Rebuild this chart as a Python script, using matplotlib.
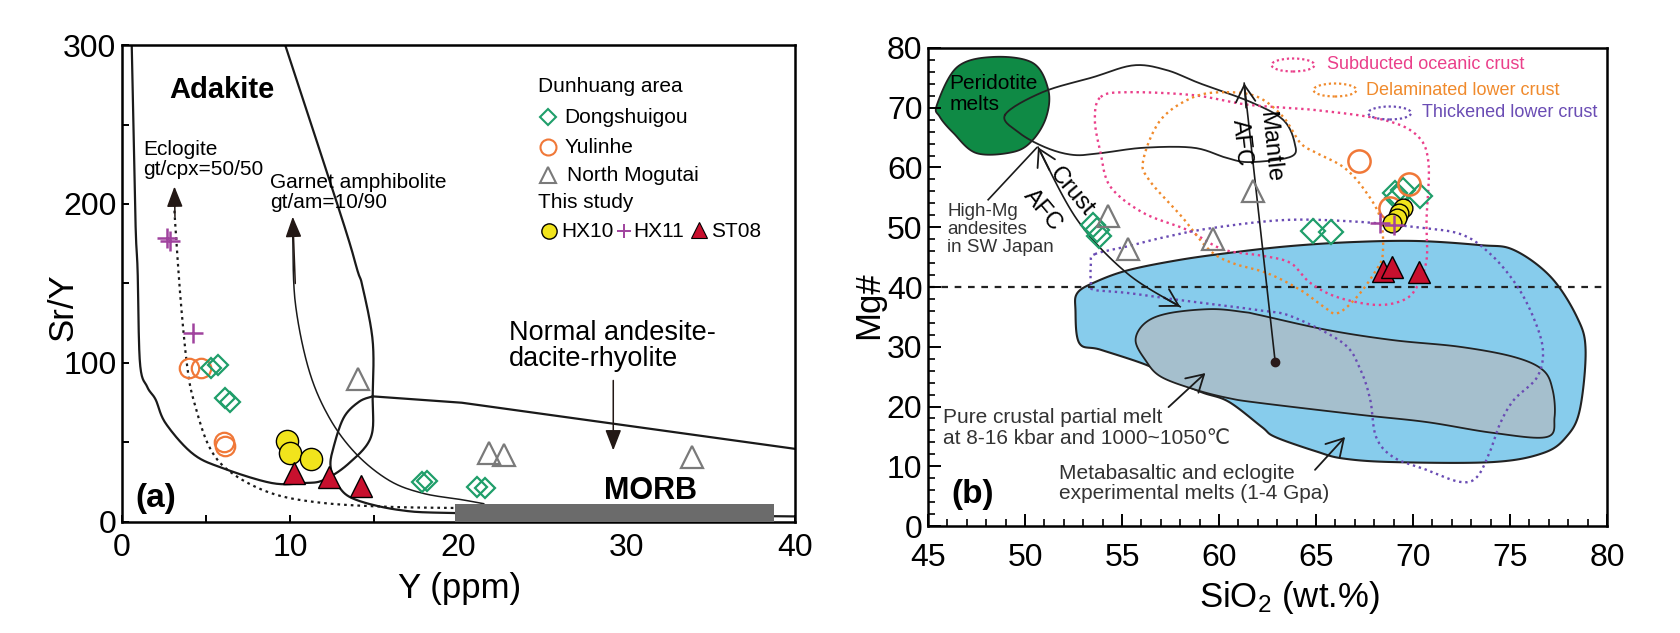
import numpy as np
import matplotlib
matplotlib.use('Agg')
import matplotlib.pyplot as plt
from matplotlib.patches import Polygon, Ellipse, Rectangle
from matplotlib.ticker import MultipleLocator

plt.rcParams['font.family'] = ['Liberation Sans', 'DejaVu Sans']
plt.rcParams['mathtext.fontset'] = 'dejavusans'

# ---------------- Panel (a) data: Y (ppm) vs Sr/Y ----------------
dong_y = [5.3, 5.7, 6.1, 6.4, 17.85, 18.15, 21.1, 21.6]
dong_sry = [97, 99, 78, 75.5, 25, 26, 22, 21.4]
yul_y = [4.0, 4.7, 6.05, 6.15]
yul_sry = [97, 97, 50, 48]
nm_y = [14.0, 21.8, 22.7, 33.9]
nm_sry = [90, 43.4, 42, 41]
hx10_y = [9.8, 10.0, 11.25]
hx10_sry = [51, 43.4, 39.6]
hx11_y = [2.7, 2.85, 4.2]
hx11_sry = [178.6, 177, 119]
st08_y = [10.2, 12.3, 14.2]
st08_sry = [31, 28, 22.6]

# field boundaries (a)
adak_y = [0.58, 0.8, 0.93, 1.07, 1.5, 2.0, 2.6, 4.2, 5.95, 8.9, 10.8, 12.0, 13.5, 14.8, 14.9, 14.9, 14.3, 14.0, 13.1, 9.7]
adak_sry = [300, 190, 158, 100, 85, 77, 62, 43, 34, 24.5, 24.5, 26.4, 37, 53.5, 79, 114, 148, 158, 190, 300]
norm_left_y = [14.9, 14.1, 13.2, 12.6, 12.4, 12.9, 13.9, 16.5, 19.8, 30, 40]
norm_left_sry = [79, 75.7, 66, 48, 34.6, 22, 14, 7.5, 5.6, 4.5, 3.5]
norm_top_y = [14.9, 20.2, 40]
norm_top_sry = [79, 75, 46]
garnet_y = [10.15, 10.3, 11.1, 12.3, 13.9, 15.9, 17.9, 20.2, 21.5]
garnet_sry = [180, 138, 96, 66, 43, 26, 18, 14, 11.5]
eclog_y = [3.12, 3.15, 3.5, 3.9, 4.3, 5.2, 6.5, 8.9, 11.9, 15.9, 19.8]
eclog_sry = [200, 190, 138, 96, 75, 47, 31, 18, 12, 9.5, 8.8]
morb_y = [19.8, 38.75]
morb_sry = [0, 11]

# ---------------- Panel (b) data: SiO2 vs Mg# ----------------
dong_si = [53.5, 53.7, 53.8, 64.85, 65.8, 69.07, 69.5, 70.36, 69.2]
dong_mg = [50.4, 49.5, 48.5, 49.4, 49.2, 55.7, 56.2, 55.2, 54.9]
yul_si = [67.2, 69.8, 68.8]
yul_mg = [61.1, 57.2, 53.2]
nm_si = [54.3, 55.3, 59.7, 61.75]
nm_mg = [51.9, 46.4, 48.0, 56.1]
hx10_si = [69.5, 69.3, 69.2, 68.9]
hx10_mg = [53.2, 52.4, 51.5, 50.7]
hx11_si = [68.3, 69.0]
hx11_mg = [50.7, 50.4]
st08_si = [68.45, 68.9, 70.3]
st08_mg = [42.7, 43.3, 42.5]

blue_si = [52.6, 52.7, 53.6, 55.3, 57.9, 60.5, 63.5, 66.75, 70.2, 73.5, 75.2, 77.1, 78.45, 78.9, 78.6, 77.9, 76.7, 74.1, 69.0, 66.4, 65.0, 62.9, 62.2, 60.5, 59.1, 57.4, 56.3, 53.9, 52.8]
blue_mg = [36.2, 39.0, 40.8, 42.8, 44.5, 45.7, 46.8, 47.5, 47.7, 47.0, 46.2, 41.7, 35.0, 29.5, 19.4, 14.9, 12.2, 10.7, 10.7, 11.3, 12.5, 14.9, 16.6, 20.8, 22.4, 24.8, 26.9, 29.5, 30.6]
gray_si = [55.7, 56.2, 57.4, 59.6, 61.3, 62.1, 65.6, 69.0, 72.4, 75.2, 76.7, 77.2, 77.3, 76.9, 74.1, 70.7, 67.3, 62.1, 60.5, 58.8, 57.0, 56.2]
gray_mg = [31.1, 34.0, 35.6, 36.3, 35.8, 35.3, 32.8, 31.1, 30.0, 28.3, 26.1, 22.8, 18.2, 14.9, 15.6, 17.4, 18.6, 20.6, 21.4, 22.8, 25.0, 27.8]
per_si = [45.46, 46.5, 48.35, 50.4, 51.2, 51.1, 50.4, 49.4, 47.5, 46.3, 45.6]
per_mg = [70.5, 76.8, 78.5, 77.5, 73.0, 68.5, 64.6, 62.6, 62.4, 65.8, 68.5]
hm_si = [48.97, 50.9, 53.5, 55.6, 57.3, 59.0, 61.6, 63.3, 63.9, 63.7, 61.6, 60.4, 58.7, 56.1, 53.9, 52.5, 51.1, 49.7]
hm_mg = [68.8, 72.6, 75.1, 77.1, 76.3, 74.1, 71.0, 68.0, 64.1, 61.8, 60.9, 61.6, 63.3, 63.3, 62.4, 62.1, 63.3, 65.8]
pk_si = [53.9, 55.3, 58.7, 61.5, 65.0, 68.45, 70.2, 70.8, 70.7, 70.7, 70.2, 69.5, 68.1, 66.1, 64.7, 63.7, 62.3, 60.2, 58.4, 56.1, 54.4, 53.9, 53.6]
pk_mg = [71.8, 72.6, 72.1, 70.5, 69.6, 68.0, 65.4, 60.8, 51.2, 44.5, 40.0, 37.8, 37.0, 38.3, 40.7, 44.0, 45.2, 46.3, 49.5, 52.4, 56.8, 62.4, 68.0]
or_si = [60.4, 62.0, 63.3, 64.2, 65.05, 66.4, 67.4, 68.3, 68.45, 68.1, 67.1, 66.1, 65.4, 64.2, 62.5, 60.7, 59.5, 58.1, 56.4, 56.1, 57.0, 58.7]
or_mg = [72.6, 71.8, 68.5, 64.1, 62.4, 60.1, 56.7, 51.7, 45.7, 42.8, 38.3, 35.6, 36.7, 39.5, 42.3, 44.0, 46.2, 51.7, 57.9, 61.3, 68.0, 71.8]
pu_si = [53.6, 55.3, 57.0, 59.5, 63.3, 66.75, 70.2, 72.5, 74.0, 75.3, 76.2, 76.7, 76.4, 75.2, 74.5, 74.0, 73.3, 72.4, 70.7, 69.0, 68.1, 67.8, 67.3, 66.4, 63.8, 62.1, 58.0, 55.3, 53.6, 53.4, 53.4]
pu_mg = [45.5, 46.8, 48.2, 49.8, 51.2, 51.0, 50.0, 48.8, 45.5, 40.5, 35.0, 29.5, 24.9, 21.1, 17.2, 12.7, 8.2, 7.4, 9.4, 11.5, 14.9, 21.1, 26.1, 30.6, 35.0, 36.1, 37.8, 39.0, 39.5, 40.5, 44.0]
mantle_si = [62.9, 61.3]
mantle_mg = [27.4, 74.1]
crust_si = [50.67, 52.7, 55.26, 58.0]
crust_mg = [63.4, 51.2, 42.3, 36.7]
highmg_si = [48.1, 50.6]
highmg_mg = [54.6, 63.3]


def smooth(xs, ys, closed=False, n=16):
    P = np.column_stack([xs, ys]).astype(float)
    if closed:
        P = np.vstack([P[-1], P, P[0], P[1]])
    else:
        P = np.vstack([P[0], P, P[-1]])
    out = []
    t = np.linspace(0, 1, n, endpoint=False)[:, None]
    for i in range(1, len(P) - 2):
        p0, p1, p2, p3 = P[i - 1], P[i], P[i + 1], P[i + 2]
        seg = 0.5 * ((2 * p1) + (-p0 + p2) * t + (2 * p0 - 5 * p1 + 4 * p2 - p3) * t ** 2
                     + (-p0 + 3 * p1 - 3 * p2 + p3) * t ** 3)
        out.append(seg)
    out.append(P[-2][None, :])
    a = np.vstack(out)
    return a[:, 0], a[:, 1]


fig = plt.figure(figsize=(16.8, 6.33), dpi=100)
ax1 = fig.add_axes([0.0726, 0.1754, 0.4006, 0.7535])
ax2 = fig.add_axes([0.5524, 0.169, 0.4041, 0.7552])

TICKFONT = ['Liberation Sans', 'DejaVu Sans']
TICKSIZE = 23
LABSIZE = 25

# ================= Panel (a) =================
ax1.set_xlim(0, 40)
ax1.set_ylim(0, 300)
ax1.xaxis.set_major_locator(MultipleLocator(10))
ax1.xaxis.set_minor_locator(MultipleLocator(5))
ax1.yaxis.set_major_locator(MultipleLocator(100))
ax1.yaxis.set_minor_locator(MultipleLocator(50))
ax1.tick_params(which='both', direction='in', length=5, width=1.4)
for lab in ax1.get_xticklabels() + ax1.get_yticklabels():
    lab.set_fontfamily(TICKFONT)
    lab.set_fontsize(TICKSIZE)
ax1.tick_params(axis='x', pad=8)
ax1.tick_params(axis='y', pad=4)
for s in ax1.spines.values():
    s.set_linewidth(1.8)

lc = '#1a1a1a'
x, y = smooth(adak_y, adak_sry)
ax1.plot(x, y, color=lc, lw=1.6, zorder=2)
x, y = smooth(norm_left_y, norm_left_sry)
ax1.plot(x, y, color=lc, lw=1.6, zorder=2)
ax1.plot(norm_top_y, norm_top_sry, color=lc, lw=1.6, zorder=2)
x, y = smooth(garnet_y, garnet_sry)
ax1.plot(x, y, color=lc, lw=1.1, zorder=2)
x, y = smooth(eclog_y, eclog_sry)
ax1.plot(x, y, color=lc, lw=1.6, ls=(0, (1.2, 1.8)), zorder=2)
ax1.add_patch(Rectangle((morb_y[0], morb_sry[0]), morb_y[1] - morb_y[0], morb_sry[1] - morb_sry[0],
                        facecolor='#6b6b6b', edgecolor='none', zorder=3))

hp = dict(arrowstyle='-|>,head_length=0.9,head_width=0.35', color='#231815', lw=1.1,
          shrinkA=0, shrinkB=0, mutation_scale=14)
ax1.annotate('', xy=(garnet_y[0], 192), xytext=(garnet_y[1], 150), arrowprops=hp, zorder=4)
ax1.annotate('', xy=(eclog_y[0], 211), xytext=(eclog_y[1], 192), arrowprops=hp, zorder=4)
ax1.annotate('', xy=(29.2, 45), xytext=(29.2, 89), arrowprops=hp, zorder=4)

ax1.text(5.95, 272, 'Adakite', fontsize=21, fontweight='bold', ha='center', va='center')
ax1.text(1.25, 240, 'Eclogite\ngt/cpx=50/50', fontsize=15, ha='left', va='top', linespacing=1.05)
ax1.text(8.8, 219.5, 'Garnet amphibolite\ngt/am=10/90', fontsize=15, ha='left', va='top', linespacing=1.05)
ax1.text(23.0, 127, 'Normal andesite-\ndacite-rhyolite', fontsize=19.5, ha='left', va='top', linespacing=1.0)
ax1.text(31.4, 19.5, 'MORB', fontsize=22, fontweight='bold', ha='center', va='center', zorder=5)
ax1.text(0.8, 15, '(a)', fontsize=24, fontweight='bold', ha='left', va='center')

c_green = '#1f9e6a'
c_orange = '#f07838'
c_gray = '#7a7a7a'
c_yellow = '#f1e41c'
c_red = '#c8102e'
c_purple = '#a0439e'

ax1.plot(yul_y, yul_sry, 'o', ms=14, mfc='none', mec=c_orange, mew=1.6, ls='none', zorder=5)
ax1.plot(dong_y, dong_sry, 'D', ms=10, mfc='none', mec=c_green, mew=1.6, ls='none', zorder=5)
ax1.plot(nm_y, nm_sry, '^', ms=16, mfc='none', mec=c_gray, mew=1.6, ls='none', zorder=5)
ax1.plot(hx10_y, hx10_sry, 'o', ms=16, mfc=c_yellow, mec='black', mew=1.0, ls='none', zorder=6)
ax1.plot(hx11_y, hx11_sry, '+', ms=15, mec=c_purple, mew=1.8, ls='none', zorder=6)
ax1.plot(st08_y, st08_sry, '^', ms=15.5, mfc=c_red, mec='black', mew=1.0, ls='none', zorder=7)

ax1.set_xlabel('Y (ppm)', fontsize=LABSIZE, family=TICKFONT)
ax1.xaxis.set_label_coords(0.502, -0.14)
ax1.xaxis.label.set_va('center')
ax1.set_ylabel('Sr/Y', fontsize=LABSIZE, family=TICKFONT)
ax1.yaxis.set_label_coords(-0.088, 0.45)
ax1.yaxis.label.set_va('center')

# legend (a), drawn in axes fraction
T = ax1.transAxes
ax1.text(0.618, 0.914, 'Dunhuang area', transform=T, fontsize=15, va='center', ha='left')
rows = [(0.849, 'D', 8, 'none', c_green, 'Dongshuigou'),
        (0.786, 'o', 11.5, 'none', c_orange, 'Yulinhe'),
        (0.727, '^', 12, 'none', c_gray, 'North Mogutai')]
for yy, m, ms, fc, ec, lab in rows:
    ax1.plot([0.633], [yy], m, ms=ms, mfc=fc, mec=ec, mew=1.5, transform=T, clip_on=False)
    ax1.text(0.657 if m != '^' else 0.662, yy, lab, transform=T, fontsize=15, va='center', ha='left')
ax1.text(0.618, 0.669, 'This study', transform=T, fontsize=15, va='center', ha='left')
ax1.plot([0.634], [0.610], 'o', ms=11, mfc=c_yellow, mec='black', mew=1.0, transform=T, clip_on=False)
ax1.text(0.652, 0.610, 'HX10', transform=T, fontsize=15, va='center', ha='left')
ax1.plot([0.746], [0.610], '+', ms=10, mec=c_purple, mew=1.4, transform=T, clip_on=False)
ax1.text(0.760, 0.610, 'HX11', transform=T, fontsize=15, va='center', ha='left')
ax1.plot([0.857], [0.612], '^', ms=11, mfc=c_red, mec='black', mew=0.8, transform=T, clip_on=False)
ax1.text(0.876, 0.610, 'ST08', transform=T, fontsize=15, va='center', ha='left')

# ================= Panel (b) =================
ax2.set_xlim(45, 80)
ax2.set_ylim(0, 80)
ax2.xaxis.set_major_locator(MultipleLocator(5))
ax2.xaxis.set_minor_locator(MultipleLocator(1))
ax2.yaxis.set_major_locator(MultipleLocator(10))
ax2.yaxis.set_minor_locator(MultipleLocator(2))
ax2.tick_params(which='major', direction='in', length=9, width=1.4)
ax2.tick_params(which='minor', direction='in', length=5, width=1.2)
for lab in ax2.get_xticklabels() + ax2.get_yticklabels():
    lab.set_fontfamily(TICKFONT)
    lab.set_fontsize(TICKSIZE)
ax2.tick_params(axis='x', pad=12)
ax2.tick_params(axis='y', pad=4)
for s in ax2.spines.values():
    s.set_linewidth(1.8)

x, y = smooth(blue_si, blue_mg, closed=True)
ax2.add_patch(Polygon(np.column_stack([x, y]), closed=True, facecolor='#87ccec',
                      edgecolor='#222222', lw=1.5, zorder=1))
x, y = smooth(gray_si, gray_mg, closed=True)
ax2.add_patch(Polygon(np.column_stack([x, y]), closed=True, facecolor='#a5bfcd',
                      edgecolor='#222222', lw=1.3, zorder=1.1))
x, y = smooth(per_si, per_mg, closed=True)
ax2.add_patch(Polygon(np.column_stack([x, y]), closed=True, facecolor='#0f8a45',
                      edgecolor='#222222', lw=1.3, zorder=1.2))
x, y = smooth(hm_si, hm_mg, closed=True)
ax2.plot(x, y, color='#222222', lw=1.3, zorder=1.3)

ax2.axhline(40, color='#222222', lw=1.6, ls=(0, (3, 3)), zorder=1.4)

dot = (0, (1, 1.6))
x, y = smooth(pk_si, pk_mg, closed=True)
ax2.plot(x, y, color='#ea3f8a', lw=1.7, ls=dot, zorder=1.5)
x, y = smooth(or_si, or_mg, closed=True)
ax2.plot(x, y, color='#f08a2c', lw=1.7, ls=dot, zorder=1.5)
x, y = smooth(pu_si, pu_mg, closed=True)
ax2.plot(x, y, color='#6a4cb4', lw=1.7, ls=dot, zorder=1.5)

# arrows
op = dict(arrowstyle='->,head_length=0.6,head_width=0.35', color='#1a1a1a', lw=1.3,
          shrinkA=0, shrinkB=0, mutation_scale=20)
ax2.plot(mantle_si, mantle_mg, color='#1a1a1a', lw=1.2, zorder=2)
ax2.annotate('', xy=(mantle_si[1], mantle_mg[1]), xytext=(61.4, 70), arrowprops=op, zorder=2)
ax2.plot([mantle_si[0]], [mantle_mg[0]], 'o', ms=6, color='#2a1a1a', zorder=2)
x, y = smooth(crust_si, crust_mg)
ax2.plot(x, y, color='#1a1a1a', lw=1.2, zorder=2)
ax2.annotate('', xy=(crust_si[0], crust_mg[0]), xytext=(x[6], y[6]), arrowprops=op, zorder=2)
ax2.annotate('', xy=(crust_si[-1], crust_mg[-1]), xytext=(x[-7], y[-7]), arrowprops=op, zorder=2)
ax2.plot(highmg_si, highmg_mg, color='#1a1a1a', lw=1.2, zorder=2)
ax2.annotate('', xy=(59.3, 25.6), xytext=(57.4, 19.9), arrowprops=op, zorder=2)
ax2.annotate('', xy=(66.5, 14.9), xytext=(64.95, 9.4), arrowprops=op, zorder=2)

tc = '#333333'
ax2.text(46.1, 75.6, 'Peridotite\nmelts', fontsize=15, ha='left', va='top', linespacing=1.1, zorder=3)
ax2.text(52.4, 55.9, 'Crust', fontsize=17, rotation=-50, ha='center', va='center',
         rotation_mode='anchor', zorder=3)
ax2.text(50.9, 52.8, 'AFC', fontsize=17, rotation=-50, ha='center', va='center',
         rotation_mode='anchor', zorder=3)
ax2.text(62.6, 63.4, 'Mantle', fontsize=17, rotation=-84, ha='center', va='center',
         rotation_mode='anchor', zorder=3)
ax2.text(61.15, 64.1, 'AFC', fontsize=17, rotation=-84, ha='center', va='center',
         rotation_mode='anchor', zorder=3)
ax2.text(45.98, 54.0, 'High-Mg\nandesites\nin SW Japan', fontsize=13.5, color=tc,
         ha='left', va='top', linespacing=1.05, zorder=3)
ax2.text(45.77, 19.7, 'Pure crustal partial melt\nat 8-16 kbar and 1000~1050\u2103', fontsize=15,
         color=tc, ha='left', va='top', linespacing=1.08, zorder=3)
ax2.text(51.75, 10.4, 'Metabasaltic and eclogite\nexperimental melts (1-4 Gpa)', fontsize=15,
         color=tc, ha='left', va='top', linespacing=1.1, zorder=3)
ax2.text(46.2, 5.35, '(b)', fontsize=24, fontweight='bold', ha='left', va='center', zorder=3)

ax2.plot(dong_si, dong_mg, 'D', ms=12.5, mfc='none', mec=c_green, mew=1.6, ls='none', zorder=5)
ax2.plot(yul_si, yul_mg, 'o', ms=16, mfc='none', mec=c_orange, mew=1.8, ls='none', zorder=5)
ax2.plot(nm_si, nm_mg, '^', ms=16.5, mfc='none', mec=c_gray, mew=1.6, ls='none', zorder=5)
ax2.plot(hx10_si, hx10_mg, 'o', ms=13.5, mfc=c_yellow, mec='black', mew=1.0, ls='none', zorder=6)
ax2.plot(hx11_si, hx11_mg, '+', ms=14, mec=c_purple, mew=1.8, ls='none', zorder=7)
ax2.plot(st08_si, st08_mg, '^', ms=15.5, mfc=c_red, mec='black', mew=1.0, ls='none', zorder=7)

ax2.set_xlabel(r'$\mathregular{SiO_2}$ (wt.%)', fontsize=LABSIZE, family=TICKFONT)
ax2.xaxis.set_label_coords(0.533, -0.15)
ax2.xaxis.label.set_va('center')
ax2.set_ylabel('Mg#', fontsize=LABSIZE, family=TICKFONT)
ax2.yaxis.set_label_coords(-0.088, 0.462)
ax2.yaxis.label.set_va('center')

# legend (b)
T2 = ax2.transAxes
leg = [(0.5376, 0.9644, '#ea3f8a', 0.5876, 'Subducted oceanic crust'),
       (0.5994, 0.9121, '#f08a2c', 0.645, 'Delaminated lower crust'),
       (0.680, 0.864, '#6a4cb4', 0.7275, 'Thickened lower crust')]
for ex, ey, col, tx, lab in leg:
    ax2.add_patch(Ellipse((ex, ey), 0.0633, 0.0272, transform=T2, facecolor='none',
                          edgecolor=col, lw=1.6, ls=(0, (1, 1.3)), zorder=8))
    ax2.text(tx, ey, lab, transform=T2, color=col, fontsize=13, ha='left', va='center', zorder=8)

fig.savefig('out.png', dpi=100)
